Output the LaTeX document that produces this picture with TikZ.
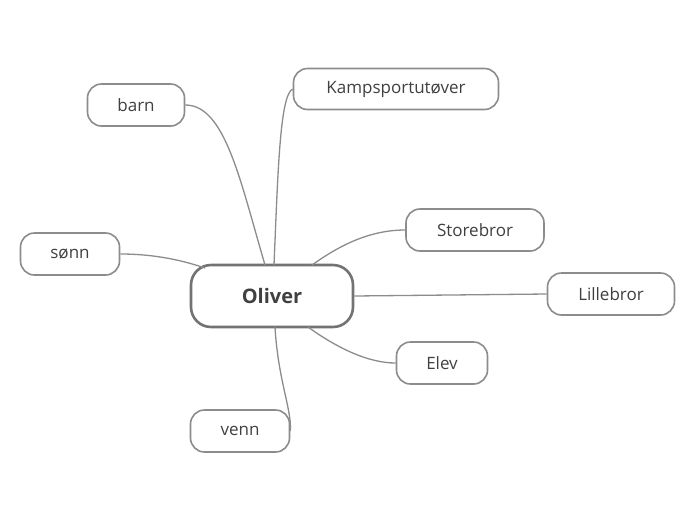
\documentclass[tikz,border=0pt]{standalone}
\usepackage{fontspec}
\setmainfont{Open Sans}
\begin{document}
\begin{tikzpicture}[x=1pt,y=-1pt,
  leaf/.style={draw=black!45,line width=1.6pt,rounded corners=14pt,minimum height=42pt,inner sep=0pt,text=black!75,font=\fontsize{17}{20}\selectfont},
  conn/.style={draw=black!45,line width=1.3pt}]
\useasboundingbox[fill=white] (0,0) rectangle (696,520);
\node[leaf,draw=black!55,line width=2.6pt,rounded corners=20pt,minimum width=162pt,minimum height=62pt,font=\fontsize{20}{24}\selectfont\bfseries] (o) at (272,296) {Oliver};
\node[leaf,minimum width=97pt] (barn) at (136,105) {barn};
\node[leaf,minimum width=205pt,minimum height=41pt] (k) at (396,89) {Kampsportutøver};
\node[leaf,minimum width=138pt] (s) at (475,230) {Storebror};
\node[leaf,minimum width=99pt] (so) at (70,254) {sønn};
\node[leaf,minimum width=127pt] (l) at (611,294) {Lillebror};
\node[leaf,minimum width=91pt] (e) at (442,363) {Elev};
\node[leaf,minimum width=99pt] (v) at (240,431) {venn};
\coordinate (a1) at (265,265);
\coordinate (a2) at (274,265);
\coordinate (a3) at (312,265);
\coordinate (a4) at (205,268);
\coordinate (a6) at (308,327);
\coordinate (a7) at (275,327);
\draw[conn] (a1) .. controls (240,180) and (225,105) .. (barn.east);
\draw[conn] (a2) .. controls (278,170) and (280,95) .. (k.west);
\draw[conn] (a3) .. controls (340,245) and (370,230) .. (s.west);
\draw[conn] (a4) .. controls (170,256) and (140,254) .. (so.east);
\draw[conn] (o.east) -- (l.west);
\draw[conn] (a6) .. controls (340,350) and (370,363) .. (e.west);
\draw[conn] (a7) .. controls (278,380) and (292,410) .. (v.east);
\end{tikzpicture}
\end{document}
